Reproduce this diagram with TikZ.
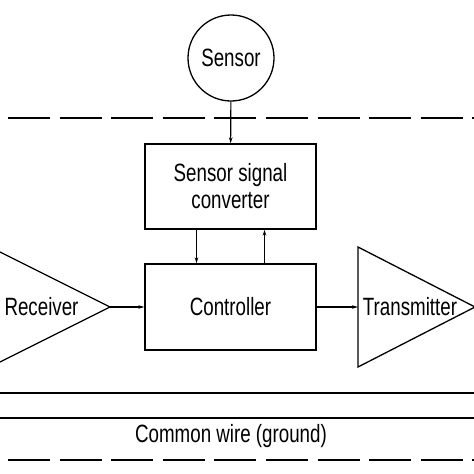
\documentclass[tikz,border=0pt]{standalone}
\usepackage{fontspec}
\setmainfont{Liberation Sans}[FakeStretch=0.75]
\usetikzlibrary{calc, positioning, arrows.meta}

\tikzset{
  block/.style={draw, line width=1.3pt, minimum width=171pt, inner sep=0pt, align=center},
  sig/.style={line width=1.1pt, -{Stealth[length=6pt, width=3.5pt]}},
  bus/.style={line width=1.2pt},
  buscut/.style={line width=1.2pt, dash pattern=on 42pt off 9.6pt},
  lbl/.style={font=\fontsize{25}{27}\selectfont, inner sep=0pt}
}

\begin{document}
\begin{tikzpicture}[x=1pt, y=-1pt]
      \clip (0,0) rectangle (474,474);

      \node[draw, circle, line width=1.3pt, minimum size=86pt, inner sep=0pt, lbl] (sensor) at (231,58) {Sensor};

      \node[block, minimum height=85pt, lbl] (conv) at (230.5,186.5) {Sensor signal\\converter};
      \node[block, minimum height=86pt, lbl] (ctrl) at (230.5,307) {Controller};

      \draw[line width=1.3pt] (-20,242) -- (110,307) -- (-20,372);
      \coordinate (rxtip) at (110,307);
      \node[lbl] (rx) at (41.5,307) {Receiver};

      \draw[line width=1.3pt] (358,247) -- (475,307) -- (358,367) -- cycle;
      \coordinate (txbase) at (358,307);
      \node[lbl] (tx) at (410,307) {Transmitter};

      \draw[sig] (sensor) -- (conv);
      \draw[sig] ([xshift=-34pt]conv.south) -- ([xshift=-34pt]ctrl.north);
      \draw[sig] ([xshift=34pt]ctrl.north) -- ([xshift=34pt]conv.south);
      \draw[sig] (rxtip) -- (ctrl);
      \draw[sig] (ctrl) -- (txbase);

      \draw[buscut] (8,118) -- (480,118);
      \draw[bus] (0,393) -- (474,393);
      \draw[bus] (0,418) -- (474,418);
      \node[lbl] (gnd) at (231,436) {Common wire (ground)};
      \draw[buscut] (8,460) -- (480,460);
  \end{tikzpicture}
\end{document}
